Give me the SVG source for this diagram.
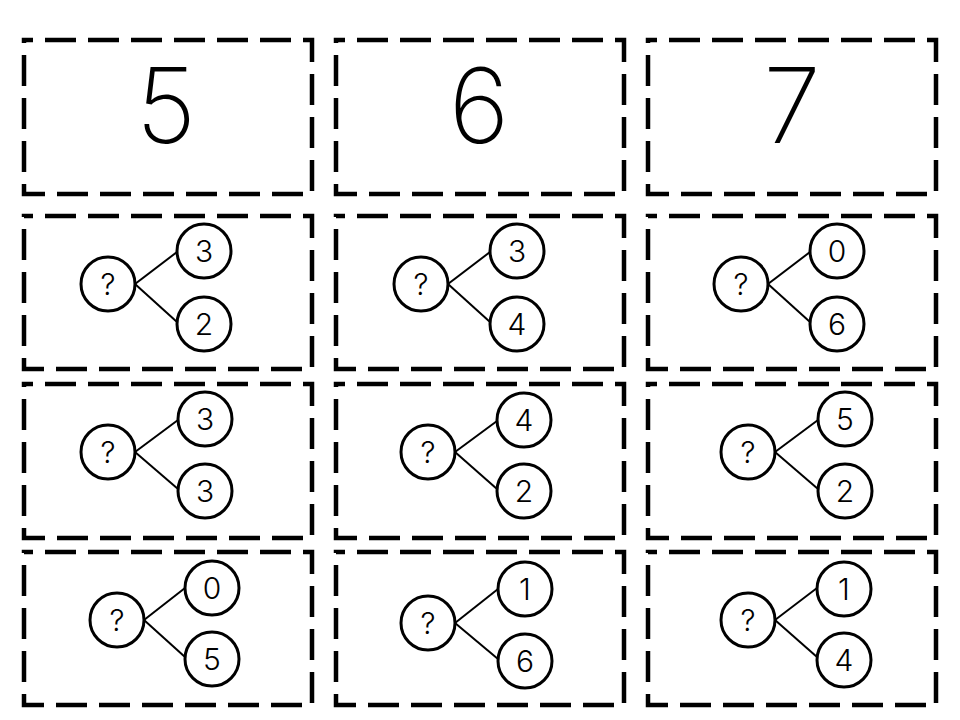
<svg xmlns="http://www.w3.org/2000/svg" width="960" height="720" viewBox="0 0 960 720">
<style>
.card{fill:none;stroke:#000;stroke-width:4.5;stroke-dasharray:31 12;stroke-dashoffset:22}
.node circle{fill:#fff;stroke:#000;stroke-width:3}
.node text{font-family:Inter,"DejaVu Sans",sans-serif;font-weight:300;font-size:30px;text-anchor:middle;fill:#000}
.big{font-family:Inter,"DejaVu Sans",sans-serif;font-weight:200;font-size:104px;text-anchor:middle;fill:#000}
.conn line{stroke:#000;stroke-width:2}
</style>
<rect width="960" height="720" fill="#fff"/>
<g id="cards">
<rect class="card" x="24" y="40" width="288" height="154"/>
<rect class="card" x="336" y="40" width="288" height="154"/>
<rect class="card" x="648" y="40" width="288" height="154"/>
<rect class="card" x="24" y="216" width="288" height="153"/>
<rect class="card" x="336" y="216" width="288" height="153"/>
<rect class="card" x="648" y="216" width="288" height="153"/>
<rect class="card" x="24" y="384" width="288" height="154"/>
<rect class="card" x="336" y="384" width="288" height="154"/>
<rect class="card" x="648" y="384" width="288" height="154"/>
<rect class="card" x="24" y="552" width="288" height="153"/>
<rect class="card" x="336" y="552" width="288" height="153"/>
<rect class="card" x="648" y="552" width="288" height="153"/>
</g>
<g id="totals">
<text id="total5" class="big" x="166" y="143">5</text>
<text id="total6" class="big" x="479" y="143">6</text>
<text id="total7" class="big" x="792" y="143">7</text>
</g>
<g id="connectors" class="conn">
<line x1="135" y1="284" x2="177" y2="252"/><line x1="135" y1="284" x2="177" y2="322"/>
<line x1="448" y1="284" x2="490" y2="252"/><line x1="448" y1="284" x2="490" y2="322"/>
<line x1="768" y1="284" x2="810" y2="252"/><line x1="768" y1="284" x2="810" y2="322"/>
<line x1="135" y1="452" x2="178" y2="420"/><line x1="135" y1="452" x2="178" y2="489"/>
<line x1="455" y1="452" x2="497" y2="421"/><line x1="455" y1="452" x2="497" y2="489"/>
<line x1="775" y1="452" x2="818" y2="420"/><line x1="775" y1="452" x2="818" y2="489"/>
<line x1="144" y1="620" x2="185" y2="588"/><line x1="144" y1="620" x2="185" y2="657"/>
<line x1="455" y1="623" x2="498" y2="589"/><line x1="455" y1="623" x2="498" y2="659"/>
<line x1="775" y1="620" x2="817" y2="588"/><line x1="775" y1="620" x2="817" y2="657"/>
</g>
<g id="n-a-q" class="node"><circle cx="108" cy="284" r="27"/><text x="108" y="295">?</text></g>
<g id="n-a-t" class="node"><circle cx="204" cy="251" r="27"/><text x="204" y="262">3</text></g>
<g id="n-a-b" class="node"><circle cx="204" cy="324" r="27"/><text x="204" y="335">2</text></g>
<g id="n-b-q" class="node"><circle cx="421" cy="284" r="27"/><text x="421" y="295">?</text></g>
<g id="n-b-t" class="node"><circle cx="517" cy="251" r="27"/><text x="517" y="262">3</text></g>
<g id="n-b-b" class="node"><circle cx="517" cy="324" r="27"/><text x="517" y="335">4</text></g>
<g id="n-c-q" class="node"><circle cx="741" cy="284" r="27"/><text x="741" y="295">?</text></g>
<g id="n-c-t" class="node"><circle cx="837" cy="251" r="27"/><text x="837" y="262">0</text></g>
<g id="n-c-b" class="node"><circle cx="837" cy="324" r="27"/><text x="837" y="335">6</text></g>
<g id="n-d-q" class="node"><circle cx="108" cy="452" r="27"/><text x="108" y="463">?</text></g>
<g id="n-d-t" class="node"><circle cx="205" cy="419" r="27"/><text x="205" y="430">3</text></g>
<g id="n-d-b" class="node"><circle cx="205" cy="491" r="27"/><text x="205" y="502">3</text></g>
<g id="n-e-q" class="node"><circle cx="428" cy="452" r="27"/><text x="428" y="463">?</text></g>
<g id="n-e-t" class="node"><circle cx="524" cy="420" r="27"/><text x="524" y="431">4</text></g>
<g id="n-e-b" class="node"><circle cx="524" cy="491" r="27"/><text x="524" y="502">2</text></g>
<g id="n-f-q" class="node"><circle cx="748" cy="452" r="27"/><text x="748" y="463">?</text></g>
<g id="n-f-t" class="node"><circle cx="845" cy="419" r="27"/><text x="845" y="430">5</text></g>
<g id="n-f-b" class="node"><circle cx="845" cy="491" r="27"/><text x="845" y="502">2</text></g>
<g id="n-g-q" class="node"><circle cx="117" cy="620" r="27"/><text x="117" y="631">?</text></g>
<g id="n-g-t" class="node"><circle cx="212" cy="588" r="27"/><text x="212" y="599">0</text></g>
<g id="n-g-b" class="node"><circle cx="212" cy="659" r="27"/><text x="212" y="670">5</text></g>
<g id="n-h-q" class="node"><circle cx="428" cy="623" r="27"/><text x="428" y="634">?</text></g>
<g id="n-h-t" class="node"><circle cx="525" cy="589" r="27"/><text x="525" y="600">1</text></g>
<g id="n-h-b" class="node"><circle cx="525" cy="661" r="27"/><text x="525" y="672">6</text></g>
<g id="n-i-q" class="node"><circle cx="748" cy="620" r="27"/><text x="748" y="631">?</text></g>
<g id="n-i-t" class="node"><circle cx="844" cy="589" r="27"/><text x="844" y="600">1</text></g>
<g id="n-i-b" class="node"><circle cx="844" cy="660" r="27"/><text x="844" y="671">4</text></g>
</svg>
